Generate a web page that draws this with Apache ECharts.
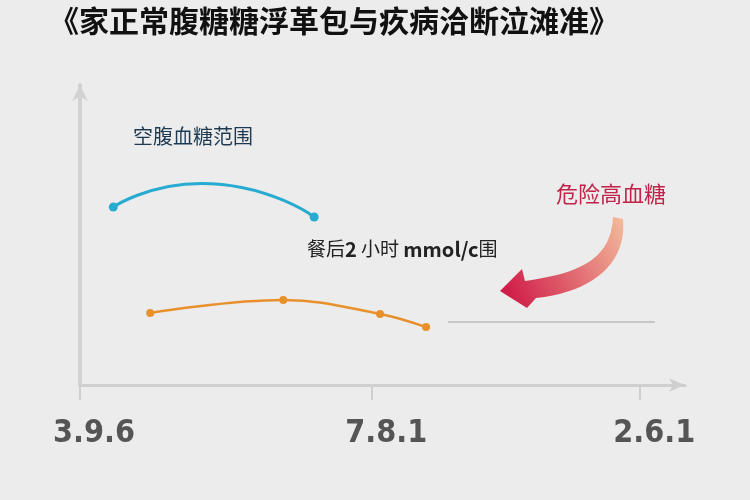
<!DOCTYPE html>
<html>
<head>
<meta charset="utf-8">
<script src="https://cdn.jsdelivr.net/npm/echarts@6/dist/echarts.min.js"></script>
<style>
  html, body { margin: 0; padding: 0; background: #ececec; }
  #chart { width: 750px; height: 500px; }
</style>
</head>
<body>
<div id="chart"></div>
<script>
  // 数据
  let tickValues = [0, 4.83, 9.26]
  let tickLabels = ['3.9.6', '7.8.1', '2.6.1']
  let fastingLine = [[0.55, 5.93], [2.0, 6.72], [3.87, 5.6]]
  let fastingMarked = [true, false, true]
  let afterMealLine = [[1.16, 2.4], [3.36, 2.83], [4.96, 2.37], [5.72, 1.93]]
  let dangerLine = [[6.08, 2.1], [9.5, 2.1]]

  // 弯箭头
  function bez(p0, p1, p2, p3, t) {
    let u = 1 - t
    return [
      u*u*u*p0[0] + 3*u*u*t*p1[0] + 3*u*t*t*p2[0] + t*t*t*p3[0],
      u*u*u*p0[1] + 3*u*u*t*p1[1] + 3*u*t*t*p2[1] + t*t*t*p3[1]
    ]
  }
  let arrowPts = []
  for (let i = 0; i <= 20; i++) arrowPts.push(bez([613, 217], [611, 258], [582, 273], [525, 281], i / 20))
  arrowPts.push([522, 269], [500, 291], [527, 308])
  for (let i = 0; i <= 20; i++) arrowPts.push(bez([536, 298], [594, 292], [627, 262], [623, 219], i / 20))

  let chart = echarts.init(document.getElementById('chart'))
  chart.setOption({
    backgroundColor: '#ececec',
    animation: false,
    grid: { left: 80, right: 65, top: 85, bottom: 115 },
    xAxis: {
      type: 'value',
      min: 0,
      max: 10,
      splitLine: { show: false },
      axisLine: {
        symbol: ['none', 'arrow'],
        symbolSize: [10, 16],
        lineStyle: { color: '#cfcfcf', width: 3 }
      },
      axisTick: {
        show: true,
        customValues: tickValues,
        length: 15,
        lineStyle: { color: '#cfcfcf', width: 2 }
      },
      axisLabel: {
        customValues: tickValues,
        formatter: function (v) {
          let idx = tickValues.indexOf(v)
          return idx >= 0 ? tickLabels[idx] : ''
        },
        margin: 33,
        padding: [0, 0, 0, 28],
        color: '#555555',
        fontSize: 32,
        fontWeight: 'bold',
        fontFamily: 'Liberation Sans Narrow, DejaVu Sans Condensed, sans-serif'
      }
    },
    yAxis: {
      type: 'value',
      min: 0,
      max: 10,
      splitLine: { show: false },
      axisTick: { show: false },
      axisLabel: { show: false },
      axisLine: {
        show: true,
        symbol: ['none', 'arrow'],
        symbolSize: [12, 16],
        lineStyle: { color: '#d2d2d2', width: 4 }
      }
    },
    series: [
      {
        name: '空腹血糖范围',
        type: 'line',
        smooth: 0.6,
        symbol: 'circle',
        symbolSize: 9,
        lineStyle: { color: '#27abd0', width: 3 },
        itemStyle: { color: '#27abd0' },
        data: fastingLine.map(function (p, i) {
          return fastingMarked[i] ? { value: p } : { value: p, symbol: 'none' }
        })
      },
      {
        name: '餐后2 小时',
        type: 'line',
        smooth: 0.4,
        symbol: 'circle',
        symbolSize: 8,
        lineStyle: { color: '#e8912c', width: 2.5 },
        itemStyle: { color: '#e8912c' },
        data: afterMealLine
      },
      {
        name: '危险高血糖',
        type: 'line',
        symbol: 'none',
        lineStyle: { color: '#c6c6c6', width: 2 },
        data: dangerLine
      }
    ],
    graphic: [
      {
        type: 'text', left: 49, top: 6,
        style: {
          text: '《家正常腹糖糖浮革包与疚病洽断泣滩准》',
          fill: '#111111',
          font: 'bold 30px "Noto Sans CJK SC", sans-serif'
        }
      },
      {
        type: 'text', left: 133, top: 126,
        style: {
          text: '空腹血糖范围',
          fill: '#1d3a52',
          font: '20px "Noto Sans CJK SC", sans-serif'
        }
      },
      {
        type: 'text', left: 307, top: 239,
        style: {
          rich: {
            a: { fontSize: 19, fontFamily: 'Noto Sans CJK SC', fill: '#222' },
            b: { fontSize: 20, fontWeight: 'bold', fontFamily: 'Noto Sans CJK SC', fill: '#222' }
          },
          text: '{a|餐后}{b|2}{a| 小时 }{b|mmol/c}{a|围}'
        }
      },
      {
        type: 'text', left: 556, top: 183,
        style: {
          text: '危险高血糖',
          fill: '#c1234a',
          font: '22px "Noto Sans CJK SC", sans-serif'
        }
      },
      {
        type: 'polygon',
        shape: { points: arrowPts },
        style: {
          fill: {
            type: 'linear', x: 1, y: 0, x2: 0, y2: 0.7,
            colorStops: [
              { offset: 0, color: '#f3bc9c' },
              { offset: 1, color: '#d01c48' }
            ]
          }
        }
      }
    ]
  })
</script>
</body>
</html>
